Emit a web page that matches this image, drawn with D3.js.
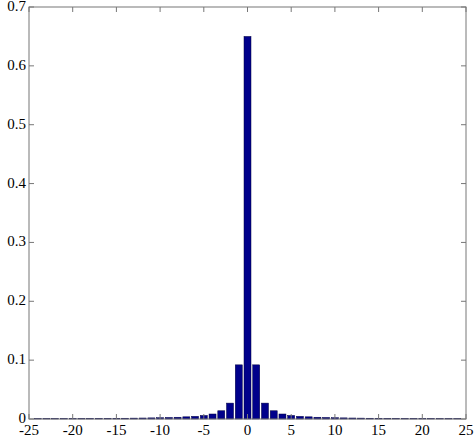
<!DOCTYPE html>
<html><head><meta charset="utf-8">
<script src="https://cdn.jsdelivr.net/npm/d3@7"></script>
<style>body{margin:0;background:#fff}text{font-family:"Liberation Serif",serif;font-size:15px;fill:#000}</style>
</head><body><div id="chart"></div>
<script>
var lags = d3.range(-24, 25);
var halfValues = [0.65, 0.092, 0.027, 0.014, 0.0085, 0.006, 0.0045, 0.0037, 0.003, 0.0026, 0.0022, 0.0019, 0.0017, 0.0015,
    0.0013, 0.0012, 0.0011, 0.001, 0.0009, 0.0008, 0.0007, 0.0007, 0.0006, 0.0006, 0.0005];
var values = lags.map(d => halfValues[Math.abs(d)]);
var xTicks = d3.range(-25, 26, 5);
var yTicks = [0, 0.1, 0.2, 0.3, 0.4, 0.5, 0.6, 0.7];

var svgWidth = 474, svgHeight = 437;
var margin = {top: 7, right: 8, bottom: 18, left: 29};
var width = svgWidth - margin.left - margin.right;
var height = svgHeight - margin.top - margin.bottom;

var svg = d3.select("#chart").append("svg").attr("width", svgWidth).attr("height", svgHeight);
var g = svg.append("g").attr("transform", `translate(${margin.left},${margin.top})`);

var x = d3.scaleLinear().domain([-25, 25]).range([0, width]);
var y = d3.scaleLinear().domain([0, 0.7]).range([height, 0]);
var bw = x(0.8) - x(0);

g.selectAll("rect.bar").data(lags).enter().append("rect")
    .attr("x", d => x(d) - bw / 2)
    .attr("y", (d, i) => y(values[i]))
    .attr("width", bw)
    .attr("height", (d, i) => height - y(values[i]))
    .attr("fill", "#00008b")
    .attr("stroke", "#000040").attr("stroke-width", 0.5);

// ticks inward on all sides, MATLAB style
var ax = g.append("g").attr("stroke", "#777").attr("stroke-width", 1);
ax.append("rect").attr("width", width).attr("height", height).attr("fill", "none");
xTicks.forEach(t => {
    ax.append("line").attr("x1", x(t)).attr("x2", x(t)).attr("y1", height).attr("y2", height - 5);
    ax.append("line").attr("x1", x(t)).attr("x2", x(t)).attr("y1", 0).attr("y2", 5);
});
yTicks.forEach(t => {
    ax.append("line").attr("x1", 0).attr("x2", 5).attr("y1", y(t)).attr("y2", y(t));
    ax.append("line").attr("x1", width).attr("x2", width - 5).attr("y1", y(t)).attr("y2", y(t));
});

g.selectAll("text.xt").data(xTicks).enter().append("text")
    .attr("x", d => x(d)).attr("y", height + 16).attr("text-anchor", "middle").text(d => d);
g.selectAll("text.yt").data(yTicks).enter().append("text")
    .attr("x", -3).attr("y", d => y(d) + 4).attr("text-anchor", "end").text(d => d);
</script></body></html>
